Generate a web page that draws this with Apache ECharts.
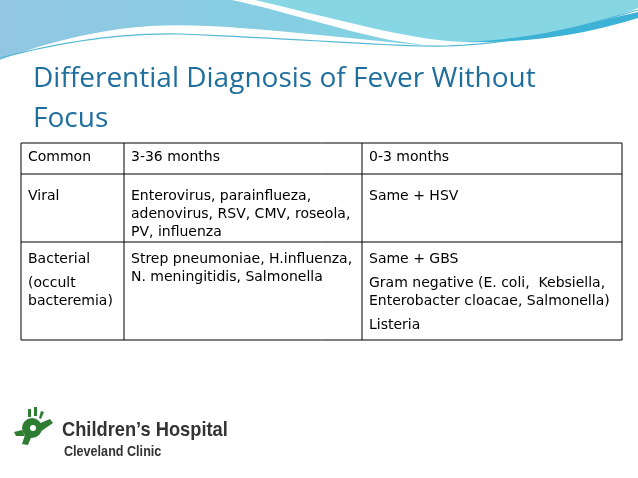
<!DOCTYPE html>
<html><head><meta charset="utf-8">
<script src="https://cdn.jsdelivr.net/npm/echarts@6/dist/echarts.min.js"></script>
<style>html,body{margin:0;padding:0;background:#fff}#c{width:638px;height:478px}</style>
</head><body><div id="c"></div>
<script>
const titleLines = ["Differential Diagnosis of Fever Without", "Focus"];
const headerRow = ["Common", "3-36 months", "0-3 months"];
const viralRow = [["Viral"], ["Enterovirus, parainflueza,\nadenovirus, RSV, CMV, roseola,\nPV, influenza"], ["Same + HSV"]];
const bacterialRow = [["Bacterial", "(occult\nbacteremia)"], ["Strep pneumoniae, H.influenza,\nN. meningitidis, Salmonella"], ["Same + GBS", "Gram negative (E. coli,  Kebsiella,\nEnterobacter cloacae, Salmonella)", "Listeria"]];
const logoLines = ["Children\u2019s Hospital", "Cleveland Clinic"];

const colX = [21, 124, 362, 622];
const rowY = [143, 174, 242, 340];
const font = '14px "DejaVu Sans", sans-serif';
const g = [];

function pts(start, segs){
  const out=[start.slice()]; let p=start.slice();
  segs.forEach(s=>{
    if(s.length===2){out.push(s.slice()); p=s.slice();}
    else{
      for(let k=1;k<=16;k++){const t=k/16,u=1-t;
        out.push([u*u*u*p[0]+3*u*u*t*s[0]+3*u*t*t*s[2]+t*t*t*s[4], u*u*u*p[1]+3*u*u*t*s[1]+3*u*t*t*s[3]+t*t*t*s[5]]);}
      p=[s[4],s[5]];
    }
  });
  return out;
}
g.push({type:'polygon', shape:{points:pts([0,0],[[232,0],[280,10,340,30,390,40],[430,46],[320,36,220,22,150,26],[90,30,30,48,0,60]])},
  style:{fill:new echarts.graphic.LinearGradient(0,0,1,0,[{offset:0,color:'#92c6e2'},{offset:1,color:'#7fd3e2'}])}});
g.push({type:'polygon', shape:{points:pts([255,0],[[638,0],[638,8],[600,25,540,40,470,42],[420,42,360,25,255,0]])},
  style:{fill:'#86d6e4'}});
g.push({type:'polyline', shape:{points:pts([0,58],[[60,42,120,33,180,34],[280,38,360,44,420,46],[500,48,570,30,638,10]])},
  style:{stroke:'#55b8d4', lineWidth:1.2}});
g.push({type:'polygon', shape:{points:pts([460,42],[[540,40,600,20,638,12],[638,18],[600,30,540,44,460,42]])},
  style:{fill:'#3bb2d6'}});

titleLines.forEach((t,i)=>g.push({type:'text', x:33, y:65+i*40, style:{text:t, font:'28px "Open Sans", sans-serif', fill:'#1f6f9e'}}));

for (let i=0;i<colX.length;i++) g.push({type:'line', shape:{x1:colX[i],y1:rowY[0],x2:colX[i],y2:rowY[3]}, style:{stroke:'#000',lineWidth:1}});
for (let j=0;j<rowY.length;j++) g.push({type:'line', shape:{x1:colX[0],y1:rowY[j],x2:colX[3],y2:rowY[j]}, style:{stroke:'#000',lineWidth:1}});

headerRow.forEach((t,i)=>g.push({type:'text', x:colX[i]+7, y:150, style:{text:t, font:font, fill:'#000'}}));
function cell(paras, ci, y0){
  let y=y0;
  paras.forEach(p=>{
    const n=p.split('\n').length;
    g.push({type:'text', x:colX[ci]+7, y:y, style:{text:p, font:font, fill:'#000', lineHeight:18}});
    y += n*18 + 6;
  });
}
viralRow.forEach((c,i)=>cell(c,i,187));
bacterialRow.forEach((c,i)=>cell(c,i,250));

g.push({type:'circle', shape:{cx:32, cy:428, r:10}, style:{fill:'#2e7d32'}});
g.push({type:'circle', shape:{cx:33, cy:428, r:3}, style:{fill:'#fff'}});
g.push({type:'polygon', shape:{points:[[38,424],[50,419],[53,423],[40,432]]}, style:{fill:'#2e7d32'}});
g.push({type:'polygon', shape:{points:[[22,430],[14,432],[16,436],[25,436]]}, style:{fill:'#2e7d32'}});
g.push({type:'polygon', shape:{points:[[26,432],[22,444],[28,445],[32,435]]}, style:{fill:'#2e7d32'}});
g.push({type:'rect', shape:{x:28,y:409,width:3,height:8}, style:{fill:'#2e7d32'}});
g.push({type:'rect', shape:{x:34,y:407,width:3,height:9}, style:{fill:'#2e7d32'}});
g.push({type:'polygon', shape:{points:[[41,411],[44,412],[41,419],[39,418]]}, style:{fill:'#2e7d32'}});
g.push({type:'text', x:62, y:420, scaleX:0.87, style:{text:logoLines[0], font:'bold 21px "Liberation Sans", Arial, sans-serif', fill:'#333'}});
g.push({type:'text', x:64, y:445, scaleX:0.9, style:{text:logoLines[1], font:'bold 14px "Liberation Sans", Arial, sans-serif', fill:'#333'}});

const chart = echarts.init(document.getElementById('c'));
chart.setOption({animation:false, graphic:{elements:g}});
</script></body></html>
